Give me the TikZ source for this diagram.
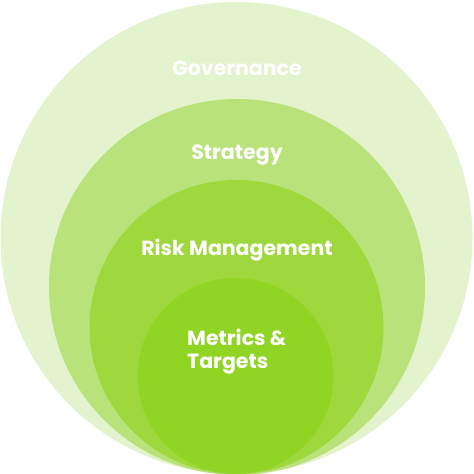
\documentclass[tikz,border=0pt]{standalone}
\usepackage{fontspec}
\setmainfont{Poppins}
\definecolor{gov}{HTML}{E3F3CD}
\definecolor{strat}{HTML}{B9E27A}
\definecolor{risk}{HTML}{9FD83C}
\definecolor{metr}{HTML}{90D424}
\begin{document}
\begin{tikzpicture}[x=1pt,y=-1pt,
  lbl/.style={text=white,font=\bfseries\fontsize{20.5}{24}\selectfont,inner sep=0pt}]
\useasboundingbox (0,0) rectangle (474,474);
\fill[gov] (236.5,238) circle (236);
\fill[strat] (237,287) circle (188);
\fill[risk] (236.5,327) circle (147);
\fill[metr] (235.5,376) circle (98);
\node[lbl] (g) at (237,68) {Governance};
\node[lbl] (s) at (237,155) {Strategy};
\node[lbl] (r) at (237,250) {Risk Management};
\node[lbl,align=left,anchor=west,font=\bfseries\fontsize{20.5}{23}\selectfont] (m) at (187,352) {Metrics \&\\Targets};
\end{tikzpicture}
\end{document}
